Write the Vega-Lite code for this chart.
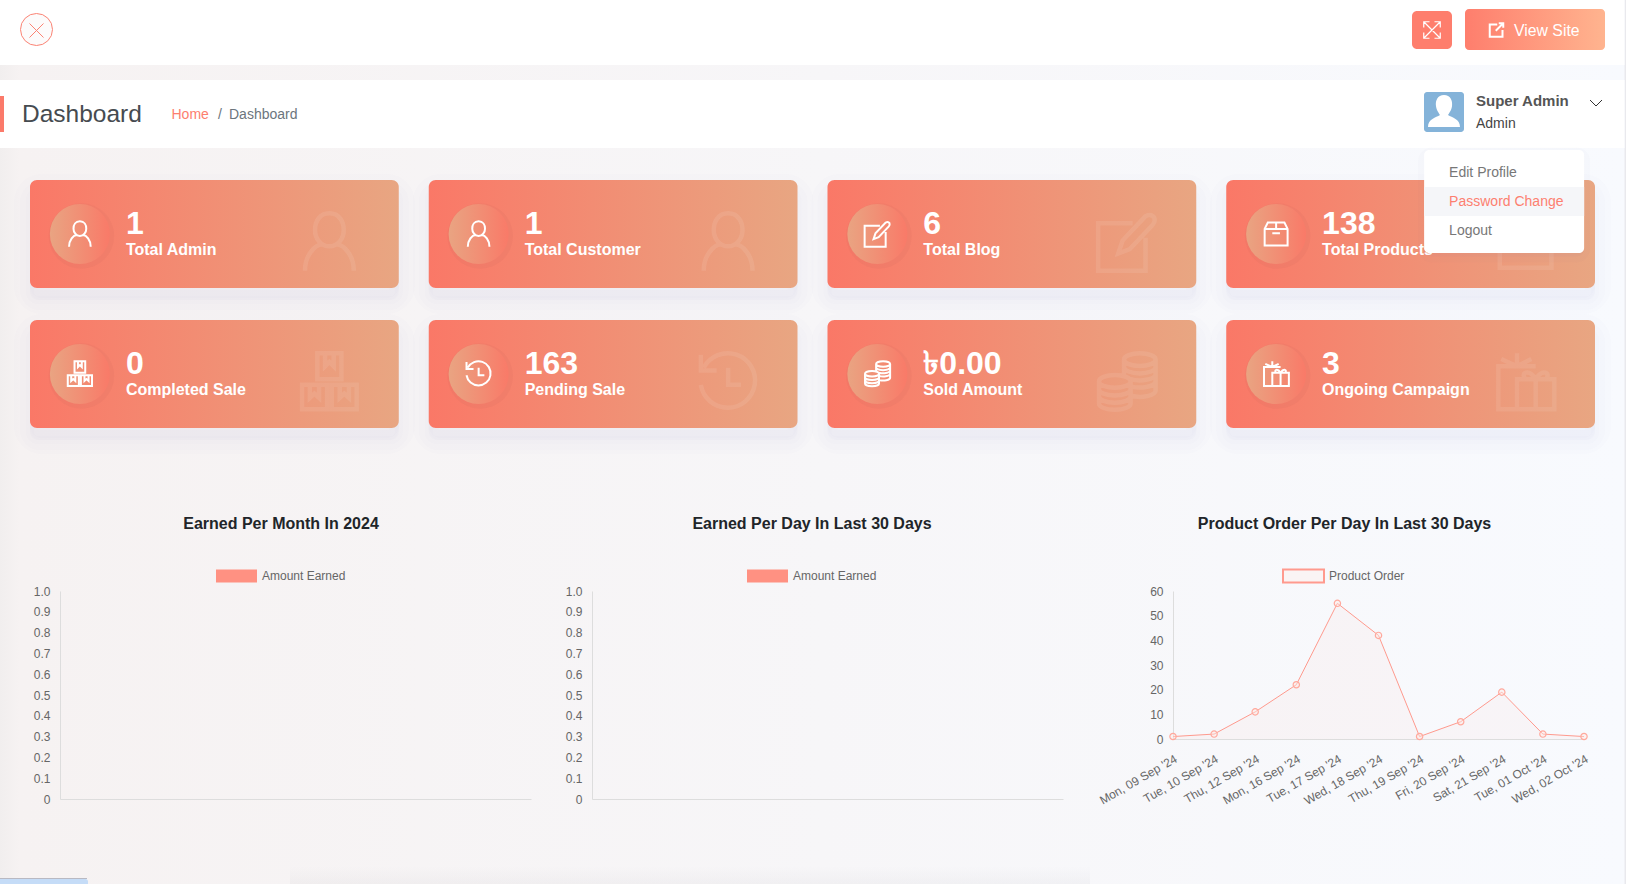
{
  "$schema": "https://vega.github.io/schema/vega-lite/v6.json",
  "padding": 0,
  "bounds": "flush",
  "spacing": 0,
  "background": "#f7f6f8",
  "resolve": {"scale": {"color": "independent", "stroke": "independent"}},
  "datasets": {
    "cards": [
      {"row": 1, "col": 1, "value": "1", "label": "Total Admin"},
      {"row": 1, "col": 2, "value": "1", "label": "Total Customer"},
      {"row": 1, "col": 3, "value": "6", "label": "Total Blog"},
      {"row": 1, "col": 4, "value": "138", "label": "Total Products"},
      {"row": 2, "col": 1, "value": "0", "label": "Completed Sale"},
      {"row": 2, "col": 2, "value": "163", "label": "Pending Sale"},
      {"row": 2, "col": 3, "value": "৳0.00", "label": "Sold Amount"},
      {"row": 2, "col": 4, "value": "3", "label": "Ongoing Campaign"}
    ],
    "orders": [
      {"day": "Mon, 09 Sep '24", "orders": 1, "series": "Product Order"},
      {"day": "Tue, 10 Sep '24", "orders": 2, "series": "Product Order"},
      {"day": "Thu, 12 Sep '24", "orders": 11, "series": "Product Order"},
      {"day": "Mon, 16 Sep '24", "orders": 22, "series": "Product Order"},
      {"day": "Tue, 17 Sep '24", "orders": 55, "series": "Product Order"},
      {"day": "Wed, 18 Sep '24", "orders": 42, "series": "Product Order"},
      {"day": "Thu, 19 Sep '24", "orders": 1, "series": "Product Order"},
      {"day": "Fri, 20 Sep '24", "orders": 7, "series": "Product Order"},
      {"day": "Sat, 21 Sep '24", "orders": 19, "series": "Product Order"},
      {"day": "Tue, 01 Oct '24", "orders": 2, "series": "Product Order"},
      {"day": "Wed, 02 Oct '24", "orders": 1, "series": "Product Order"}
    ],
    "one": [{"item": "page"}]
  },
  "vconcat": [
    {
      "width": 1626,
      "height": 65,
      "data": {"name": "one"},
      "layer": [
        {
          "mark": {"type": "rect", "fill": {"gradient": "linear", "x1": 0, "x2": 1, "y1": 0, "y2": 0, "stops": [{"offset": 0, "color": "#f1eeee"}, {"offset": 0.012, "color": "#f6f2f2"}, {"offset": 1, "color": "#f8fafe"}]}},
          "encoding": {
            "x": {"datum": 0, "type": "quantitative", "axis": null, "scale": {"domain": [0, 1626], "range": [0, 1626], "nice": false, "zero": false}},
            "x2": {"datum": 1626},
            "y": {"datum": 0, "type": "quantitative", "axis": null, "scale": {"domain": [0, 65], "range": [0, 65], "nice": false, "zero": false}},
            "y2": {"datum": 884}
          }
        },
        {
          "mark": {"type": "rect", "fill": {"gradient": "linear", "x1": 0, "x2": 0, "y1": 0, "y2": 1, "stops": [{"offset": 0, "color": "rgba(120,120,130,0)"}, {"offset": 1, "color": "rgba(120,120,130,0.05)"}]}},
          "encoding": {
            "x": {"datum": 290, "type": "quantitative", "axis": null},
            "x2": {"datum": 1090},
            "y": {"datum": 866, "type": "quantitative", "axis": null},
            "y2": {"datum": 884}
          }
        },
        {
          "mark": {"type": "rect", "fill": "#c5dcf7", "cornerRadiusTopRight": 3},
          "encoding": {
            "x": {"datum": 0, "type": "quantitative", "axis": null},
            "x2": {"datum": 88},
            "y": {"datum": 879, "type": "quantitative", "axis": null},
            "y2": {"datum": 884}
          }
        },
        {
          "mark": {"type": "rect", "fill": "#b9b9c2"},
          "encoding": {
            "x": {"datum": 0, "type": "quantitative", "axis": null},
            "x2": {"datum": 87},
            "y": {"datum": 878, "type": "quantitative", "axis": null},
            "y2": {"datum": 879}
          }
        },
        {
          "mark": {"type": "rect", "fill": "#e9e9ed"},
          "encoding": {
            "x": {"datum": 1624.5, "type": "quantitative", "axis": null},
            "x2": {"datum": 1626},
            "y": {"datum": 0, "type": "quantitative", "axis": null},
            "y2": {"datum": 884}
          }
        },
        {
          "mark": {"type": "rect", "fill": "white"},
          "encoding": {
            "x": {"datum": 0, "type": "quantitative", "axis": null},
            "x2": {"datum": 1624.5},
            "y": {"datum": 0, "type": "quantitative", "axis": null},
            "y2": {"datum": 65}
          }
        },
        {
          "mark": {"type": "point", "shape": "circle", "size": 1024, "fill": "#fcfbfb", "filled": true, "stroke": "#fb8374", "strokeWidth": 1, "opacity": 1},
          "encoding": {"x": {"datum": 36.5, "type": "quantitative", "axis": null}, "y": {"datum": 29.5, "type": "quantitative", "axis": null}}
        },
        {
          "mark": {"type": "point", "shape": "M-1,-1L1,1M1,-1L-1,1", "size": 196, "stroke": "#fb8374", "strokeWidth": 1, "opacity": 1},
          "encoding": {"x": {"datum": 36.5, "type": "quantitative", "axis": null}, "y": {"datum": 30.5, "type": "quantitative", "axis": null}}
        },
        {
          "mark": {"type": "rect", "fill": "#fe7e6d", "cornerRadius": 5},
          "encoding": {
            "x": {"datum": 1412, "type": "quantitative", "axis": null},
            "x2": {"datum": 1452},
            "y": {"datum": 11, "type": "quantitative", "axis": null},
            "y2": {"datum": 49}
          }
        },
        {
          "mark": {"type": "point", "shape": "M-1,-1L1,1M1,-1L-1,1M-1,-0.3V-1H-0.3M0.3,-1H1V-0.3M1,0.3V1H0.3M-0.3,1H-1V0.3", "size": 272, "stroke": "white", "strokeWidth": 1.2, "opacity": 1},
          "encoding": {"x": {"datum": 1432, "type": "quantitative", "axis": null}, "y": {"datum": 30, "type": "quantitative", "axis": null}}
        },
        {
          "mark": {"type": "rect", "cornerRadius": 4, "fill": {"gradient": "linear", "x1": 0, "x2": 1, "y1": 0, "y2": 0, "stops": [{"offset": 0, "color": "#fe7e6d"}, {"offset": 1, "color": "#ffb48f"}]}},
          "encoding": {
            "x": {"datum": 1465, "type": "quantitative", "axis": null},
            "x2": {"datum": 1605},
            "y": {"datum": 9, "type": "quantitative", "axis": null},
            "y2": {"datum": 50}
          }
        },
        {
          "mark": {"type": "point", "shape": "M0.1,-0.75H-0.9V0.9H0.8V0M-0.1,0.1L0.9,-0.9M0.3,-0.9H0.9V-0.3", "size": 225, "stroke": "white", "strokeWidth": 2, "opacity": 1},
          "encoding": {"x": {"datum": 1496.5, "type": "quantitative", "axis": null}, "y": {"datum": 30, "type": "quantitative", "axis": null}}
        },
        {
          "data": {"values": [{"text": "View Site"}]},
          "mark": {"type": "text", "fontSize": 15.8, "color": "white"},
          "encoding": {
            "text": {"field": "text"},
            "x": {"datum": 1514, "type": "quantitative", "axis": null},
            "y": {"datum": 35.5, "type": "quantitative", "axis": null}
          }
        }
      ]
    },
    {"width": 1626, "height": 15, "data": {"name": "one"}, "mark": {"type": "rect", "opacity": 0}},
    {
      "width": 1626,
      "height": 68,
      "data": {"name": "one"},
      "layer": [
        {
          "mark": {"type": "rect", "fill": "white"},
          "encoding": {
            "x": {"datum": 0, "type": "quantitative", "axis": null, "scale": {"domain": [0, 1626], "range": [0, 1626], "nice": false, "zero": false}},
            "x2": {"datum": 1624.5},
            "y": {"datum": 80, "type": "quantitative", "axis": null, "scale": {"domain": [80, 148], "range": [0, 68], "nice": false, "zero": false}},
            "y2": {"datum": 148}
          }
        },
        {
          "mark": {"type": "rect", "fill": "#fb7a6a"},
          "encoding": {
            "x": {"datum": 0, "type": "quantitative", "axis": null},
            "x2": {"datum": 4},
            "y": {"datum": 96, "type": "quantitative", "axis": null},
            "y2": {"datum": 132}
          }
        },
        {
          "data": {"values": [{"text": "Dashboard"}]},
          "mark": {"type": "text", "fontSize": 24.5, "color": "#464b50"},
          "encoding": {"text": {"field": "text"}, "x": {"datum": 22, "type": "quantitative", "axis": null}, "y": {"datum": 122, "type": "quantitative", "axis": null}}
        },
        {
          "data": {"values": [{"text": "Home"}]},
          "mark": {"type": "text", "fontSize": 14, "color": "#fd7e6e"},
          "encoding": {"text": {"field": "text"}, "x": {"datum": 171.5, "type": "quantitative", "axis": null}, "y": {"datum": 119, "type": "quantitative", "axis": null}}
        },
        {
          "data": {"values": [{"text": "/"}]},
          "mark": {"type": "text", "fontSize": 14, "color": "#6c757d"},
          "encoding": {"text": {"field": "text"}, "x": {"datum": 218, "type": "quantitative", "axis": null}, "y": {"datum": 119, "type": "quantitative", "axis": null}}
        },
        {
          "data": {"values": [{"text": "Dashboard"}]},
          "mark": {"type": "text", "fontSize": 14, "color": "#6c757d"},
          "encoding": {"text": {"field": "text"}, "x": {"datum": 229, "type": "quantitative", "axis": null}, "y": {"datum": 119, "type": "quantitative", "axis": null}}
        },
        {
          "mark": {"type": "rect", "fill": "#84b3d9", "cornerRadius": 3},
          "encoding": {
            "x": {"datum": 1424, "type": "quantitative", "axis": null},
            "x2": {"datum": 1464},
            "y": {"datum": 92, "type": "quantitative", "axis": null},
            "y2": {"datum": 132}
          }
        },
        {
          "mark": {"type": "point", "shape": "M0,-1C0.4,-1 0.55,-0.65 0.5,-0.3C0.45,0 0.3,0.15 0.25,0.25C0.5,0.4 1,0.5 1,1H-1C-1,0.5 -0.5,0.4 -0.25,0.25C-0.3,0.15 -0.45,0 -0.5,-0.3C-0.55,-0.65 -0.4,-1 0,-1Z", "size": 1024, "filled": true, "fill": "white", "opacity": 1},
          "encoding": {"x": {"datum": 1444, "type": "quantitative", "axis": null}, "y": {"datum": 111, "type": "quantitative", "axis": null}}
        },
        {
          "data": {"values": [{"text": "Super Admin"}]},
          "mark": {"type": "text", "fontSize": 15, "fontWeight": "bold", "color": "#555555"},
          "encoding": {"text": {"field": "text"}, "x": {"datum": 1476, "type": "quantitative", "axis": null}, "y": {"datum": 106, "type": "quantitative", "axis": null}}
        },
        {
          "data": {"values": [{"text": "Admin"}]},
          "mark": {"type": "text", "fontSize": 14, "color": "#444444"},
          "encoding": {"text": {"field": "text"}, "x": {"datum": 1476, "type": "quantitative", "axis": null}, "y": {"datum": 128, "type": "quantitative", "axis": null}}
        },
        {
          "mark": {"type": "point", "shape": "M-1,-0.5L0,0.5L1,-0.5", "size": 144, "stroke": "#333333", "strokeWidth": 1, "opacity": 1},
          "encoding": {"x": {"datum": 1596, "type": "quantitative", "axis": null}, "y": {"datum": 103, "type": "quantitative", "axis": null}}
        }
      ]
    },
    {"width": 1626, "height": 32, "data": {"name": "one"}, "mark": {"type": "rect", "opacity": 0}},
    {
      "width": 1626,
      "height": 248,
      "data": {"name": "cards"},
      "encoding": {
        "x": {"field": "col", "type": "ordinal", "axis": null, "scale": {"range": [30, 1595], "paddingInner": 0.0752, "paddingOuter": 0}},
        "y": {"field": "row", "type": "ordinal", "axis": null, "scale": {"range": [0, 248], "paddingInner": 0.2286, "paddingOuter": 0}}
      },
      "layer": [
        {"mark": {"type": "rect", "fill": "#6a60c0", "fillOpacity": 0.012, "stroke": "#6a60c0", "strokeOpacity": 0.01, "strokeWidth": 32, "cornerRadius": 12, "yOffset": 10}},
        {"mark": {"type": "rect", "fill": "#6a60c0", "fillOpacity": 0.015, "stroke": "#6a60c0", "strokeOpacity": 0.012, "strokeWidth": 20, "cornerRadius": 10, "yOffset": 12}},
        {"mark": {"type": "rect", "fill": "#6a60c0", "fillOpacity": 0.015, "stroke": "#6a60c0", "strokeOpacity": 0.012, "strokeWidth": 8, "cornerRadius": 8, "yOffset": 12}},
        {
          "mark": {"type": "rect", "cornerRadius": 7, "fill": {"gradient": "linear", "x1": 0, "x2": 1, "y1": 0, "y2": 0, "stops": [{"offset": 0, "color": "#fa7867"}, {"offset": 1, "color": "#e8a682"}]}}
        },
        {
          "mark": {"type": "point", "filled": true, "size": 3300, "strokeWidth": 4.5, "opacity": 1, "fill": "white", "fillOpacity": 0, "stroke": "white", "strokeOpacity": 0.09, "xOffset": 115, "yOffset": 8},
          "encoding": {
            "shape": {"field": "label", "type": "nominal", "legend": null, "scale": {
              "domain": ["Total Admin", "Total Customer", "Total Blog", "Total Products", "Completed Sale", "Pending Sale", "Sold Amount", "Ongoing Campaign"],
              "range": [
                "M0,-1C0.35,-1 0.5,-0.7 0.5,-0.42C0.5,-0.12 0.3,0.15 0,0.15C-0.3,0.15 -0.5,-0.12 -0.5,-0.42C-0.5,-0.7 -0.35,-1 0,-1ZM-0.85,1C-0.85,0.45 -0.5,0.1 -0.25,0.08M0.85,1C0.85,0.45 0.5,0.1 0.25,0.08",
                "M0,-1C0.35,-1 0.5,-0.7 0.5,-0.42C0.5,-0.12 0.3,0.15 0,0.15C-0.3,0.15 -0.5,-0.12 -0.5,-0.42C-0.5,-0.7 -0.35,-1 0,-1ZM-0.85,1C-0.85,0.45 -0.5,0.1 -0.25,0.08M0.85,1C0.85,0.45 0.5,0.1 0.25,0.08",
                "M0.2,-0.65H-1V1H0.65V-0.15M-0.3,0.4L-0.15,-0.05L0.65,-0.9Q0.85,-1 0.95,-0.85Q1,-0.7 0.9,-0.6L0.1,0.25Z",
                "M-0.9,-0.4L-0.65,-0.9H0.65L0.9,-0.4V0.9H-0.9ZM-0.9,-0.4H0.9M0,-0.9V-0.4M-0.3,-0.05H0.3",
                "M-0.42,-1H0.42V-0.1H-0.42ZM-0.95,0.1H-0.08V0.95H-0.95ZM0.08,0.1H0.95V0.95H0.08ZM-0.15,-1V-0.55L0,-0.7L0.15,-0.55V-1M-0.68,0.1V0.55L-0.52,0.4L-0.36,0.55V0.1M0.36,0.1V0.55L0.52,0.4L0.68,0.55V0.1",
                "M-0.85,-0.5A0.95,0.95 0 1 1 -0.95,0.1M-0.95,-0.95V-0.4H-0.4M0,-0.5V0.1H0.45",
                "M-0.97,-0.02A0.55,0.22 0 1 0 0.13,-0.02A0.55,0.22 0 1 0 -0.97,-0.02V0.75A0.55,0.22 0 0 0 0.13,0.75V-0.02M-0.97,0.25A0.55,0.22 0 0 0 0.13,0.25M-0.97,0.5A0.55,0.22 0 0 0 0.13,0.5M-0.1,-0.78A0.55,0.22 0 1 0 1,-0.78A0.55,0.22 0 1 0 -0.1,-0.78V-0.2M1,-0.78V0.3A0.55,0.22 0 0 1 0.15,0.48M-0.1,-0.52A0.55,0.22 0 0 0 1,-0.52M0.13,-0.1A0.55,0.22 0 0 0 1,-0.25M0.13,0.15A0.55,0.22 0 0 0 1,0",
                "M-0.35,0.95H-0.95V-0.55H0.35M-0.3,-0.55L-0.85,-0.8M-0.3,-0.55L-0.3,-1M-0.3,-0.55L0.2,-0.8M-0.3,-0.1H1V0.95H-0.3ZM0.35,-0.1V0.95M0.35,-0.1C0.1,-0.5 -0.2,-0.3 0,-0.1M0.35,-0.1C0.6,-0.5 0.9,-0.3 0.7,-0.1"
              ]
            }}
          }
        },
        {
          "mark": {"type": "point", "shape": "circle", "filled": true, "size": 4300, "fill": "#c9605a", "fillOpacity": 0.1, "opacity": 1, "xOffset": -133, "yOffset": 2}
        },
        {
          "mark": {"type": "point", "shape": "circle", "filled": true, "size": 3600, "opacity": 1, "xOffset": -134.5, "fill": {"gradient": "linear", "x1": 0, "x2": 1, "y1": 0, "y2": 0, "stops": [{"offset": 0, "color": "#e9a482"}, {"offset": 1, "color": "#f97a68"}]}}
        },
        {
          "mark": {"type": "point", "filled": true, "size": 650, "fillOpacity": 0, "stroke": "white", "strokeWidth": 2, "opacity": 1, "xOffset": -134.5},
          "encoding": {"shape": {"field": "label", "type": "nominal", "legend": null}}
        },
        {
          "mark": {"type": "text", "fontSize": 32, "fontWeight": "bold", "color": "white", "dx": -88.5},
          "encoding": {"text": {"field": "value"}}
        },
        {
          "mark": {"type": "text", "fontSize": 16, "fontWeight": "bold", "color": "white", "dx": -88.5, "dy": 21},
          "encoding": {"text": {"field": "label"}}
        },
        {
          "data": {"name": "one"},
          "mark": {"type": "rect", "fill": "#6a60b0", "fillOpacity": 0.03, "stroke": "#6a60b0", "strokeOpacity": 0.02, "strokeWidth": 12, "cornerRadius": 8, "width": 160, "height": 103, "xOffset": 93.5, "yOffset": -29},
          "encoding": {"x": {"datum": 4, "type": "ordinal", "axis": null}, "y": {"datum": 1, "type": "ordinal", "axis": null}}
        },
        {
          "data": {"name": "one"},
          "mark": {"type": "rect", "fill": "white", "cornerRadius": 5, "width": 160, "height": 103, "xOffset": 93.5, "yOffset": -32.5},
          "encoding": {"x": {"datum": 4, "type": "ordinal", "axis": null}, "y": {"datum": 1, "type": "ordinal", "axis": null}}
        },
        {
          "data": {"name": "one"},
          "mark": {"type": "rect", "fill": "#f5f6f9", "width": 160, "height": 29, "xOffset": 93.5, "yOffset": -32.5},
          "encoding": {"x": {"datum": 4, "type": "ordinal", "axis": null}, "y": {"datum": 1, "type": "ordinal", "axis": null}}
        },
        {
          "data": {"values": [{"menu": "Edit Profile"}]},
          "mark": {"type": "text", "fontSize": 14, "color": "#777777", "dx": 38.5, "dy": -57},
          "encoding": {"text": {"field": "menu"}, "x": {"datum": 4, "type": "ordinal", "axis": null}, "y": {"datum": 1, "type": "ordinal", "axis": null}}
        },
        {
          "data": {"values": [{"menu": "Password Change"}]},
          "mark": {"type": "text", "fontSize": 14, "color": "#fd7f70", "dx": 38.5, "dy": -28},
          "encoding": {"text": {"field": "menu"}, "x": {"datum": 4, "type": "ordinal", "axis": null}, "y": {"datum": 1, "type": "ordinal", "axis": null}}
        },
        {
          "data": {"values": [{"menu": "Logout"}]},
          "mark": {"type": "text", "fontSize": 14, "color": "#777777", "dx": 38.5, "dy": 1},
          "encoding": {"text": {"field": "menu"}, "x": {"datum": 4, "type": "ordinal", "axis": null}, "y": {"datum": 1, "type": "ordinal", "axis": null}}
        }
      ]
    },
    {"width": 1626, "height": 163, "data": {"name": "one"}, "mark": {"type": "rect", "opacity": 0}},
    {
      "bounds": "flush",
      "spacing": 0,
      "resolve": {"scale": {"color": "independent", "stroke": "independent"}},
      "hconcat": [
        {"width": 60, "height": 1, "data": {"name": "one"}, "mark": {"type": "rect", "opacity": 0}},
        {
          "title": {"text": "Earned Per Month In 2024", "dx": -14.5, "offset": 23},
          "width": 471,
          "height": 208,
          "data": {"values": []},
          "mark": "bar",
          "encoding": {
            "x": {"field": "month", "type": "nominal", "axis": {"labels": false, "ticks": false, "title": null, "grid": false}},
            "y": {"field": "amount", "type": "quantitative", "scale": {"domain": [0, 1]}, "axis": {"values": [0, 0.1, 0.2, 0.3, 0.4, 0.5, 0.6, 0.7, 0.8, 0.9, 1], "labelExpr": "datum.value == 0 ? '0' : format(datum.value, '.1f')"}},
            "color": {"field": "series", "type": "nominal", "scale": {"domain": ["Amount Earned"], "range": ["#ff9182"]}, "legend": {"orient": "none", "legendX": 155, "legendY": -36.5}}
          }
        },
        {"width": 61, "height": 1, "data": {"name": "one"}, "mark": {"type": "rect", "opacity": 0}},
        {
          "title": {"text": "Earned Per Day In Last 30 Days", "dx": -15.5, "offset": 23},
          "width": 471,
          "height": 208,
          "data": {"values": []},
          "mark": "bar",
          "encoding": {
            "x": {"field": "day", "type": "nominal", "axis": {"labels": false, "ticks": false, "title": null, "grid": false}},
            "y": {"field": "amount", "type": "quantitative", "scale": {"domain": [0, 1]}, "axis": {"values": [0, 0.1, 0.2, 0.3, 0.4, 0.5, 0.6, 0.7, 0.8, 0.9, 1], "labelExpr": "datum.value == 0 ? '0' : format(datum.value, '.1f')"}},
            "color": {"field": "series", "type": "nominal", "scale": {"domain": ["Amount Earned"], "range": ["#ff9182"]}, "legend": {"orient": "none", "legendX": 154, "legendY": -36.5}}
          }
        },
        {"width": 110, "height": 1, "data": {"name": "one"}, "mark": {"type": "rect", "opacity": 0}},
        {
          "title": {"text": "Product Order Per Day In Last 30 Days", "dx": -34, "offset": 23},
          "width": 411,
          "height": 148,
          "data": {"name": "orders"},
          "encoding": {
            "x": {"field": "day", "type": "ordinal", "sort": null, "scale": {"type": "point", "padding": 0}, "axis": {"labelAngle": -30, "labelAlign": "right", "labelBaseline": "top", "labelPadding": 14, "labelOffset": 0, "ticks": false, "title": null, "grid": false}},
            "y": {"field": "orders", "type": "quantitative", "scale": {"domain": [0, 60]}, "axis": {"values": [0, 10, 20, 30, 40, 50, 60]}}
          },
          "layer": [
            {"mark": {"type": "area", "color": "#fa7a6a", "opacity": 0.04}},
            {
              "mark": {"type": "line", "strokeWidth": 1},
              "encoding": {
                "stroke": {"field": "series", "type": "nominal", "scale": {"range": ["#ff9a8e"]}, "legend": {"orient": "none", "legendX": 109, "legendY": -36.5, "symbolFillColor": "#faf4f4", "symbolStrokeColor": "#ffb3a8", "symbolStrokeWidth": 2}}
              }
            },
            {"mark": {"type": "point", "size": 40, "stroke": "#ffa99d", "fill": "#ffe8e4", "fillOpacity": 0.4, "strokeWidth": 1.2, "opacity": 1}}
          ]
        }
      ]
    }
  ],
  "config": {
    "font": "Liberation Sans",
    "view": {"stroke": null},
    "text": {"align": "left", "baseline": "alphabetic"},
    "title": {"font": "Liberation Sans", "fontSize": 16, "fontWeight": "bold", "color": "#212529", "anchor": "middle"},
    "axis": {"labelFont": "Liberation Sans", "labelFontSize": 12, "labelColor": "#666666", "domainColor": "#dddddd", "ticks": false, "grid": false, "title": null, "labelPadding": 10},
    "legend": {
      "title": null,
      "labelFont": "Liberation Sans",
      "labelFontSize": 12,
      "labelColor": "#666666",
      "symbolType": "M-1,-0.317H1V0.317H-1Z",
      "symbolSize": 1681,
      "labelOffset": 4
    }
  }
}
